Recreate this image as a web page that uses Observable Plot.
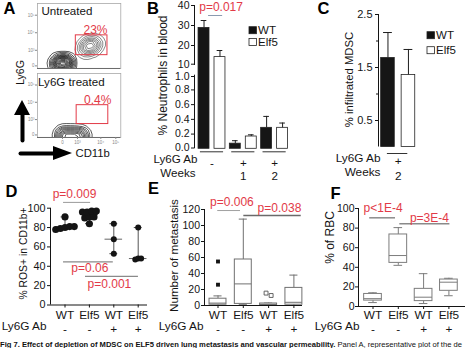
<!DOCTYPE html>
<html><head><meta charset="utf-8">
<script src="https://cdn.jsdelivr.net/npm/d3@7"></script>
<script src="https://cdn.jsdelivr.net/npm/@observablehq/plot@0.6"></script>
<style>
html,body{margin:0;padding:0;background:#fff;}
#root{position:relative;width:474px;height:348px;overflow:hidden;background:#fff;font-family:"Liberation Sans",Arial,sans-serif;}
#root svg{position:absolute;overflow:visible;}
#cap{position:absolute;left:0px;top:340.6px;font-size:7.6px;line-height:7.6px;white-space:nowrap;color:#111;}
</style></head><body><div id="root"><div id="cap"></div></div>
<script>
// ================= DATA =================
// Panel A – flow cytometry (CD11b vs Ly6G)
const flowConditions = ["Untreated", "Ly6G treated"];
const gatePercents = ["23%", "0.4%"];
const gateX1 = [46, 47], gateX2 = [84, 85], gateY1 = [20.5, 21], gateY2 = [51, 50.5];
// population kind: 0 = Ly6G+ CD11b+ cluster, 1 = dense negative cluster, 2 = faint tail
const popCond   = [0,0,0,0, 0,0,0,0,0,0, 0,0,0,0, 1,1,1,1,1];
const popKind   = [1,1,1,1, 0,0,0,0,0,0, 2,2,2,2, 1,1,1,1,1];
const popCD11b  = [24,30,36,30, 54,60,66,72,62,66, 52,64,76,86, 28,36,44,52,59];
const popLy6G   = [8,10,9,5, 30,33,37,40,40,30, 12,11,10,8, 5,4,4,4,5];
const popWeight = [3,4,3,3, 2,3,3,2,1.5,1.5, 0.25,0.25,0.2,0.12, 3,4,4,3,1];
const flowTicks = [4, 28, 55, 82];
const flowXTicks = [30, 48, 76, 94];
const flowTickLabels = ["0", "10³", "10⁴", "10⁵"];

// Panel B – % neutrophils in blood
const B_ab = ["-", "+", "+"];
const B_weeks = ["", "1", "2"];
const B_series = ["WT", "Elf5"];
const B_wt = [28.8, 0.07, 0.285];
const B_wtErr = [3.7, 0.04, 0.155];
const B_elf5 = [14.2, 0.167, 0.285];
const B_elf5Err = [3.3, 0.023, 0.065];
const B_pLabel = ["p=0.017"], B_pFrom = [0.89], B_pTo = [1.34], B_pLevel = [35], B_pTextX = [1.29];

// Panel C – % infiltrated MDSC
const C_series = ["WT", "Elf5"];
const C_vals = [1.68, 1.36];
const C_err = [0.48, 0.48];
const C_ab = ["+"], C_weeks = ["2"];

// Panel D – % ROS+ in CD11b+
const D_cats = ["WT", "Elf5", "WT", "Elf5"];
const D_ab = ["-", "-", "+", "+"];
const D_WT_ctrl = [91, 81, 79, 78, 80, 81];
const D_Elf5_ctrl = [97, 96, 97, 96, 91, 90, 91, 84];
const D_WT_ab = [84, 68, 53];
const D_Elf5_ab = [80, 48, 48, 47];
const D_pLabel = ["p=0.009", "p=0.06", "p=0.001"];
const D_pFrom = [0.94, 0.94, 1.84], D_pTo = [2.05, 2.98, 4.01], D_pLevel = [106, 44.5, 29.5], D_pTextX = [1.39, 2.02, 2.82];

// Panel E – number of metastasis (box plots)
const E_cats = ["WT", "Elf5", "WT", "Elf5"];
const E_ab = ["-", "-", "+", "+"];
const E_lo = [0, 1, 0, 0], E_q1 = [1, 2, 0.5, 1], E_med = [3, 27, 1.5, 4], E_q3 = [8.5, 57.5, 2.5, 22], E_hi = [12, 108, 3, 38];
const E_outCat = [1, 1, 3, 3], E_outVal = [26, 55, 15.5, 12.5];
const E_pLabel = ["p=0.006", "p=0.038"];
const E_pFrom = [0.99, 2.02], E_pTo = [1.89, 4.29], E_pLevel = [118.7, 112.5], E_pTextX = [1.55, 3.43];

// Panel F – % of RBC (box plots)
const F_cats = ["WT", "Elf5", "WT", "Elf5"];
const F_ab = ["-", "-", "+", "+"];
const F_lo = [4, 42, 3, 11], F_q1 = [6, 44.5, 5.5, 16], F_med = [8, 52, 9.5, 24.8], F_q3 = [12.8, 73.5, 18, 27.5], F_hi = [14, 80.5, 33.5, 28.8];
const F_pLabel = ["p<1E-4", "p=3E-4"];
const F_pFrom = [0.87, 2.06], F_pTo = [1.89, 4.04], F_pLevel = [90.5, 84.4], F_pTextX = [1.4, 3.23];

const captionBold = "Fig 7. Effect of depletion of MDSC on ELF5 driven lung metastasis and vascular permeability.";
const captionRest = " Panel A, representative plot of the de";

// ================= DRAWING =================
const FONT = '"Liberation Sans", Arial, Helvetica, sans-serif';
const RED = "#e23a47";
const INK = "#141414";
const root = document.getElementById("root");
const st = (fs) => ({fontFamily: FONT, fontSize: (fs || 10.5) + "px", background: "transparent", overflow: "visible", color: INK});
function put(svg, left, top) { svg.style.left = left + "px"; svg.style.top = top + "px"; root.appendChild(svg); }

// ---- Panel A ----
function flowPlot(ci, w, h, showX) {
  const pts = popCond.map((c, i) => ({c, k: popKind[i], x: popCD11b[i], y: popLy6G[i], w: popWeight[i]})).filter(d => d.c === ci);
  const gate = [{x1: gateX1[ci], x2: gateX2[ci], y1: gateY1[ci], y2: gateY2[ci], t: gatePercents[ci]}];
  const hasDensity = typeof Plot.density === "function";
  const marks = [
    Plot.frame({stroke: "#a8a8a8", strokeWidth: 0.8}),
    hasDensity ? Plot.density(pts.filter(d => d.k !== 1), {x: "x", y: "y", weight: "w", bandwidth: 3, thresholds: 9, stroke: "#262626", strokeWidth: 0.55, clip: true}) : null,
    hasDensity ? Plot.density(pts.filter(d => d.k === 1), {x: "x", y: "y", weight: "w", bandwidth: showX ? 2.2 : 2.6, thresholds: showX ? 11 : 16, stroke: "#111", strokeWidth: 0.7, clip: true})
               : Plot.dot(pts, {x: "x", y: "y", r: d => 1 + d.w, fill: "#222"}),
    Plot.ruleY([0], {stroke: "#555", strokeWidth: 0.8}),
    Plot.rect(gate, {x1: "x1", x2: "x2", y1: "y1", y2: "y2", fill: "none", stroke: RED, strokeWidth: 1}),
    Plot.text(gate, {x: "x2", y: "y2", text: "t", textAnchor: "end", dy: -5.5, dx: ci ? 3 : 0, fill: RED, fontSize: 12}),
    Plot.text([flowConditions[ci]], {text: d => d, frameAnchor: "top-left", lineAnchor: "top", dx: ci ? 0.6 : 4, dy: ci ? 4.3 : 3, fontSize: 11.6, fill: INK}),
    Plot.axisY({ticks: flowTicks, tickFormat: d => flowTickLabels[flowTicks.indexOf(d)], tickSize: 2, tickPadding: 1, fontSize: 4.5, color: "#888", label: null})
  ].filter(Boolean);
  if (showX) marks.push(Plot.axisX({ticks: flowXTicks, tickFormat: d => flowTickLabels[flowXTicks.indexOf(d)], tickSize: 2, tickPadding: 1, fontSize: 4.5, color: "#888", label: null}));
  return Plot.plot({width: w, height: h, margin: 0, style: st(11),
    x: showX ? {domain: [0, 100]} : {domain: [0, 100], axis: null},
    y: {domain: [0, 100]}, marks});
}
put(flowPlot(0, 83.3, 65, false), 36.7, 3.3);
put(flowPlot(1, 83.3, 64, true), 36.7, 72.7);

// ---- Panel B ----
{
  const W = 150, H = 180, ML = 44, c1 = 61.5, step = 31.3;
  const xDom = [1 - (c1 - ML) / step, 1 + (W - c1) / step];
  const rows = [];
  B_ab.forEach((g, i) => {
    rows.push({s: 0, x: i + 1 - 0.255, v: B_wt[i], e: B_wtErr[i]});
    rows.push({s: 1, x: i + 1 + 0.255, v: B_elf5[i], e: B_elf5Err[i]});
  });
  const bp = B_pLabel.map((t, i) => ({t, x1: B_pFrom[i], x2: B_pTo[i], y: B_pLevel[i], tx: B_pTextX[i]}));
  const fmt = d => d >= 10 ? String(d) : d.toFixed(1);
  put(Plot.plot({
    width: W, height: H, marginLeft: ML, marginRight: 0, marginTop: 5, marginBottom: H - 148.3,
    style: st(10.5),
    x: {type: "linear", domain: xDom, axis: null},
    y: {type: "linear", domain: [0, 1, 10, 40], range: [148.3, 74.7, 65, 5]},
    marks: [
      Plot.rect(rows, {x1: d => d.x - 0.175, x2: d => d.x + 0.175, y1: () => 0, y2: "v", fill: d => d.s ? "#fff" : "#161616", stroke: "#222", strokeWidth: 0.8}),
      Plot.ruleX(rows, {x: "x", y1: "v", y2: d => d.v + d.e, stroke: "#1e1e1e"}),
      Plot.ruleY(rows, {y: d => d.v + d.e, x1: d => d.x - 0.09, x2: d => d.x + 0.09, stroke: "#1e1e1e"}),
      Plot.ruleX([[0, 1], [10, 40]], {x: () => xDom[0], y1: d => d[0], y2: d => d[1], stroke: INK}),
      Plot.axisY({ticks: [0], tickFormat: fmt, tickSize: 3, tickPadding: 2, dy: -0.8, label: null}),
      Plot.axisY({ticks: [0.2, 0.4, 0.6, 0.8], tickFormat: fmt, tickSize: 3, tickPadding: 2, label: null}),
      Plot.axisY({ticks: [1], tickFormat: fmt, tickSize: 3, tickPadding: 2, dy: 1.3, label: null}),
      Plot.axisY({ticks: [10], tickFormat: fmt, tickSize: 3, tickPadding: 2, dy: -1.3, label: null}),
      Plot.axisY({ticks: [20, 30, 40], tickFormat: fmt, tickSize: 3, tickPadding: 2, label: null}),
      Plot.ruleY(B_ab, {y: () => 0, x1: (d, i) => i + 1 - 0.37, x2: (d, i) => i + 1 + 0.37, dy: 3, stroke: "#333"}),
      Plot.text(B_ab, {x: (d, i) => i + 1, y: () => 0, dy: 14.3, text: d => d, fontSize: 11.6}),
      Plot.text(B_weeks, {x: (d, i) => i + 1, y: () => 0, dy: 27.8, text: d => d, fontSize: 11.6}),
      Plot.text(["Ly6G Ab"], {text: d => d, frameAnchor: "bottom-left", dx: 3, dy: 14.3, textAnchor: "end", fontSize: 11.6}),
      Plot.text(["Weeks"], {text: d => d, frameAnchor: "bottom-left", dx: 1, dy: 27.8, textAnchor: "end", fontSize: 11.6}),
      Plot.ruleY(bp, {y: "y", x1: "x1", x2: "x2", stroke: "#8b9bb0"}),
      Plot.text(bp, {x: "tx", y: "y", dy: -8, text: "t", fill: RED, fontSize: 12})
    ]
  }), 150, 0);
}

// ---- Panel C ----
{
  const W = 164, H = 180, ML = 68, c = 397.7 - 310, step = 40;
  const xDom = [1 - (c - ML) / step, 1 + (W - c) / step];
  const rows = C_series.map((s, i) => ({s: i, x: 1 + (i ? 0.256 : -0.256), v: C_vals[i], e: C_err[i]}));
  put(Plot.plot({
    width: W, height: H, marginLeft: ML, marginRight: 0, marginTop: 14, marginBottom: H - 146.5,
    style: st(11),
    x: {type: "linear", domain: xDom, axis: null},
    y: {type: "linear", domain: [0, 2.5]},
    marks: [
      Plot.rect(rows, {x1: d => d.x - 0.17, x2: d => d.x + 0.17, y1: () => 0, y2: "v", fill: d => d.s ? "#fff" : "#161616", stroke: "#222", strokeWidth: 0.8}),
      Plot.ruleX(rows, {x: "x", y1: "v", y2: d => d.v + d.e, stroke: "#1e1e1e"}),
      Plot.ruleY(rows, {y: d => d.v + d.e, x1: d => d.x - 0.11, x2: d => d.x + 0.11, stroke: "#1e1e1e"}),
      Plot.ruleX([0], {x: () => xDom[0], y1: () => 0, y2: () => 2.5, stroke: INK}),
      Plot.axisY({ticks: [0.5, 1.5, 2.5], tickFormat: d => d.toFixed(1), tickSize: 3, tickPadding: 3, label: null}),
      Plot.axisY({ticks: [1, 2], tickFormat: () => "", tickSize: 2, label: null}),
      Plot.ruleY(C_ab, {y: () => 0, x1: () => 0.73, x2: () => 1.24, dy: 6.5, stroke: "#333"}),
      Plot.text(C_ab, {x: () => 1, y: () => 0, dy: 14.5, text: d => d, fontSize: 11.8}),
      Plot.text(C_weeks, {x: () => 1, y: () => 0, dy: 29, text: d => d, fontSize: 11.8}),
      Plot.text(["Ly6G Ab"], {text: d => d, frameAnchor: "bottom-left", dx: 2, dy: 14.5, textAnchor: "end", fontSize: 11.8}),
      Plot.text(["Weeks"], {text: d => d, frameAnchor: "bottom-left", dx: 2, dy: 29, textAnchor: "end", fontSize: 11.8})
    ]
  }), 310, 0);
}

// helpers for the bottom row
function pMarks(labels, from, to, level, tx, dys, strokes, widths) {
  const rows = labels.map((t, i) => ({t, x1: from[i], x2: to[i], y: level[i], tx: tx[i], dy: dys[i], s: strokes[i], w: widths[i]}));
  return rows.flatMap(r => [
    Plot.ruleY([r], {y: "y", x1: "x1", x2: "x2", stroke: r.s, strokeWidth: r.w}),
    Plot.text([r], {x: "tx", y: "y", dy: r.dy, text: "t", fill: RED, fontSize: 12})
  ]);
}
function frameMarks(cats, ab, xDom, yTop, yTicks, abDy, abDx, tickPad, yPad) {
  return [
    Plot.ruleX([0], {x: () => xDom[0], y1: () => 0, y2: () => yTop, stroke: INK}),
    Plot.ruleY([0], {stroke: INK}),
    Plot.axisY({ticks: yTicks, tickSize: 3, tickPadding: yPad, label: null}),
    Plot.axisX({ticks: [1, 2, 3, 4], tickFormat: d => cats[d - 1], tickSize: 3, tickPadding: tickPad, fontSize: 11.8, label: null}),
    Plot.text(ab, {x: (d, i) => i + 1, y: () => 0, dy: abDy, text: d => d, fontSize: 11.8}),
    Plot.text(["Ly6G Ab"], {text: d => d, frameAnchor: "bottom-left", dx: abDx, dy: abDy, textAnchor: "end", fontSize: 11.8})
  ];
}
function boxMarks(lo, q1, med, q3, hi, half, capHalf, color) {
  const rows = lo.map((v, i) => ({x: i + 1, lo: lo[i], q1: q1[i], med: med[i], q3: q3[i], hi: hi[i]}));
  return [
    Plot.ruleX(rows, {x: "x", y1: "lo", y2: "q1", stroke: color}),
    Plot.ruleX(rows, {x: "x", y1: "q3", y2: "hi", stroke: color}),
    Plot.ruleY(rows, {y: "lo", x1: d => d.x - capHalf, x2: d => d.x + capHalf, stroke: color}),
    Plot.ruleY(rows, {y: "hi", x1: d => d.x - capHalf, x2: d => d.x + capHalf, stroke: color}),
    Plot.rect(rows, {x1: d => d.x - half, x2: d => d.x + half, y1: "q1", y2: "q3", fill: "#fff", stroke: color}),
    Plot.ruleY(rows, {y: "med", x1: d => d.x - half, x2: d => d.x + half, stroke: color})
  ];
}
function catDomain(ML, W, MR, firstPx, step) {
  return [1 - (firstPx - ML) / step, 1 + (W - MR - firstPx) / step];
}

// ---- Panel D ----
{
  const W = 155, H = 183, ML = 50, MR = 8, MT = 42.7, MB = 43.5;
  const xDom = catDomain(ML, W, MR, 64.5, 24.4);
  function spread(vals, cat, step) {
    const idx = vals.map((v, i) => i).sort((a, b) => vals[a] - vals[b]);
    const rowsG = [];
    idx.forEach(i => { const r = rowsG[rowsG.length - 1]; if (r && vals[i] - vals[r[0]] <= 4) r.push(i); else rowsG.push([i]); });
    const out = [];
    rowsG.forEach(r => r.forEach((i, k) => out.push({cat, v: vals[i], x: cat + (k - (r.length - 1) / 2) * step})));
    return out;
  }
  const groups = [D_WT_ctrl, D_Elf5_ctrl, D_WT_ab, D_Elf5_ab];
  const stats = groups.map((g, i) => ({x: i + 1, lo: d3.min(g), hi: d3.max(g), med: d3.median(g), ctrl: D_ab[i] === "-"}));
  const pts = groups.flatMap((g, i) => spread(g, i + 1, D_ab[i] === "-" ? 0.19 : 0.12).map(p => ({...p, ctrl: D_ab[i] === "-"})));
  put(Plot.plot({
    width: W, height: H, marginLeft: ML, marginRight: MR, marginTop: MT, marginBottom: MB,
    style: st(10.8),
    x: {type: "linear", domain: xDom},
    y: {type: "linear", domain: [0, 100]},
    marks: [
      ...frameMarks(D_cats, D_ab, xDom, 100, [0, 20, 40, 60, 80, 100], 24.5, -4, 2.5, 2),
      Plot.ruleX(stats, {x: "x", y1: "lo", y2: "hi", stroke: "#555"}),
      Plot.ruleY(stats, {y: "lo", x1: d => d.x - 0.16, x2: d => d.x + 0.16, stroke: "#444"}),
      Plot.ruleY(stats, {y: "hi", x1: d => d.x - 0.16, x2: d => d.x + 0.16, stroke: "#444"}),
      Plot.ruleY(stats, {y: "med", x1: d => d.x - 0.36, x2: d => d.x + 0.36, stroke: d => d.ctrl ? "#222" : "#666"}),
      Plot.dot(pts, {x: "x", y: "v", r: d => d.ctrl ? 2.1 : 1.5, fill: INK, stroke: "none"}),
      ...pMarks(D_pLabel, D_pFrom, D_pTo, D_pLevel, D_pTextX, [-8, 6, 8], ["#9a9a9a", "#8a8a8a", "#8a8a8a"], [1, 1.2, 1.2])
    ]
  }), 0, 165);
}

// ---- Panel E ----
{
  const W = 160, H = 183, ML = 54, MR = 8, MT = 44, MB = 43;
  const xDom = catDomain(ML, W, MR, 217.5 - 150, 25.3);
  const outs = E_outVal.map((v, i) => {
    const near = E_outVal.map((w, j) => j).filter(j => E_outCat[j] === E_outCat[i] && Math.abs(E_outVal[j] - v) < 5);
    const k = near.indexOf(i);
    return {x: E_outCat[i] + (k - (near.length - 1) / 2) * 0.2, v, filled: E_ab[E_outCat[i] - 1] === "-"};
  });
  put(Plot.plot({
    width: W, height: H, marginLeft: ML, marginRight: MR, marginTop: MT, marginBottom: MB,
    style: st(10.5),
    x: {type: "linear", domain: xDom},
    y: {type: "linear", domain: [0, 120]},
    marks: [
      ...boxMarks(E_lo, E_q1, E_med, E_q3, E_hi, 0.335, 0.16, "#707070"),
      ...frameMarks(E_cats, E_ab, xDom, 120, [0, 20, 40, 60, 80, 100, 120], 24, -1, 2, 1.5),
      Plot.dot(outs, {x: "x", y: "v", symbol: "square", r: 2.2, fill: d => d.filled ? INK : "#fff", stroke: d => d.filled ? "none" : "#555", strokeWidth: 0.9}),
      ...pMarks(E_pLabel, E_pFrom, E_pTo, E_pLevel, E_pTextX, [-8.5, -7], ["#a0a0a0", "#6a6a6a"], [1, 1.7])
    ]
  }), 150, 165);
}

// ---- Panel F ----
{
  const W = 164, H = 183, ML = 48, MR = 9, MT = 43, MB = 42;
  const xDom = catDomain(ML, W, MR, 372.5 - 310, 25.3);
  put(Plot.plot({
    width: W, height: H, marginLeft: ML, marginRight: MR, marginTop: MT, marginBottom: MB,
    style: st(10.5),
    x: {type: "linear", domain: xDom},
    y: {type: "linear", domain: [0, 100]},
    marks: [
      ...boxMarks(F_lo, F_q1, F_med, F_q3, F_hi, 0.35, 0.17, "#7c7c7c"),
      ...frameMarks(F_cats, F_ab, xDom, 100, [0, 20, 40, 60, 80, 100], 23, 1, 1.5, 1),
      ...pMarks(F_pLabel, F_pFrom, F_pTo, F_pLevel, F_pTextX, [-10, -6], ["#8a8a8a", "#8a8a8a"], [1.5, 1.5])
    ]
  }), 310, 165);
}

// ---- Overlay: panel letters, axis titles, arrows, legends ----
{
  const letters = [["A", 3, 2], ["B", 146.5, 2], ["C", 317, 2], ["D", 5, 185], ["E", 147.5, 182], ["F", 330, 187]];
  const titles = [["Ly6G", 20.5, 72, 10.5], ["% Neutrophils in blood", 163, 75, 12], ["% infiltrated MDSC", 349, 79, 11.3],
                  ["% ROS+ in CD11b+", 23, 253, 10.4], ["Number of metastasis", 174, 255, 11.6], ["% of RBC", 330, 237, 12]];
  const legendB = B_series.map((s, i) => ({s, i, x: 249, y: 26.7 + i * 11.7}));
  const legendC = C_series.map((s, i) => ({s, i, x: 427, y: 31.7 + i * 15}));
  const legend = [...legendB, ...legendC];
  put(Plot.plot({
    width: 474, height: 348, margin: 0, style: st(11),
    x: {type: "linear", domain: [0, 474], range: [0, 474], axis: null},
    y: {type: "linear", domain: [0, 348], range: [0, 348], axis: null},
    marks: [
      Plot.text(letters, {x: d => d[1], y: d => d[2], text: d => d[0], textAnchor: "start", lineAnchor: "top", fontWeight: "bold", fontSize: 16.5, fill: "#000"}),
      ...titles.map(t => Plot.text([t], {x: d => d[1], y: d => d[2], text: d => d[0], rotate: -90, fontSize: t[3], fill: INK})),
      Plot.text(["CD11b"], {x: () => 75, y: () => 152.5, text: d => d, textAnchor: "start", fontSize: 11.3, fill: INK}),
      Plot.line([[22, 140], [22, 112]], {stroke: "#000", strokeWidth: 4}),
      Plot.areaX([{y: 115, x1: 14, x2: 30}, {y: 100, x1: 22, x2: 22}], {y: "y", x1: "x1", x2: "x2", fill: "#000"}),
      Plot.line([[20, 153], [56, 153]], {stroke: "#000", strokeWidth: 4}),
      Plot.areaY([{x: 53, y1: 146, y2: 160}, {x: 72, y1: 153, y2: 153}], {x: "x", y1: "y1", y2: "y2", fill: "#000"}),
      Plot.rect(legend, {x1: "x", x2: d => d.x + 7.4, y1: "y", y2: d => d.y + 7, fill: d => d.i ? "#fff" : "#111", stroke: "#222", strokeWidth: 0.8}),
      Plot.text(legend, {x: d => d.x + 8.6, y: d => d.y + 3.6, text: "s", textAnchor: "start", fontSize: 11.5, fill: INK})
    ]
  }), 0, 0);
}

document.getElementById("cap").innerHTML = "<b>" + captionBold + "</b>" + captionRest;
root.appendChild(document.getElementById("cap"));
</script></body></html>
